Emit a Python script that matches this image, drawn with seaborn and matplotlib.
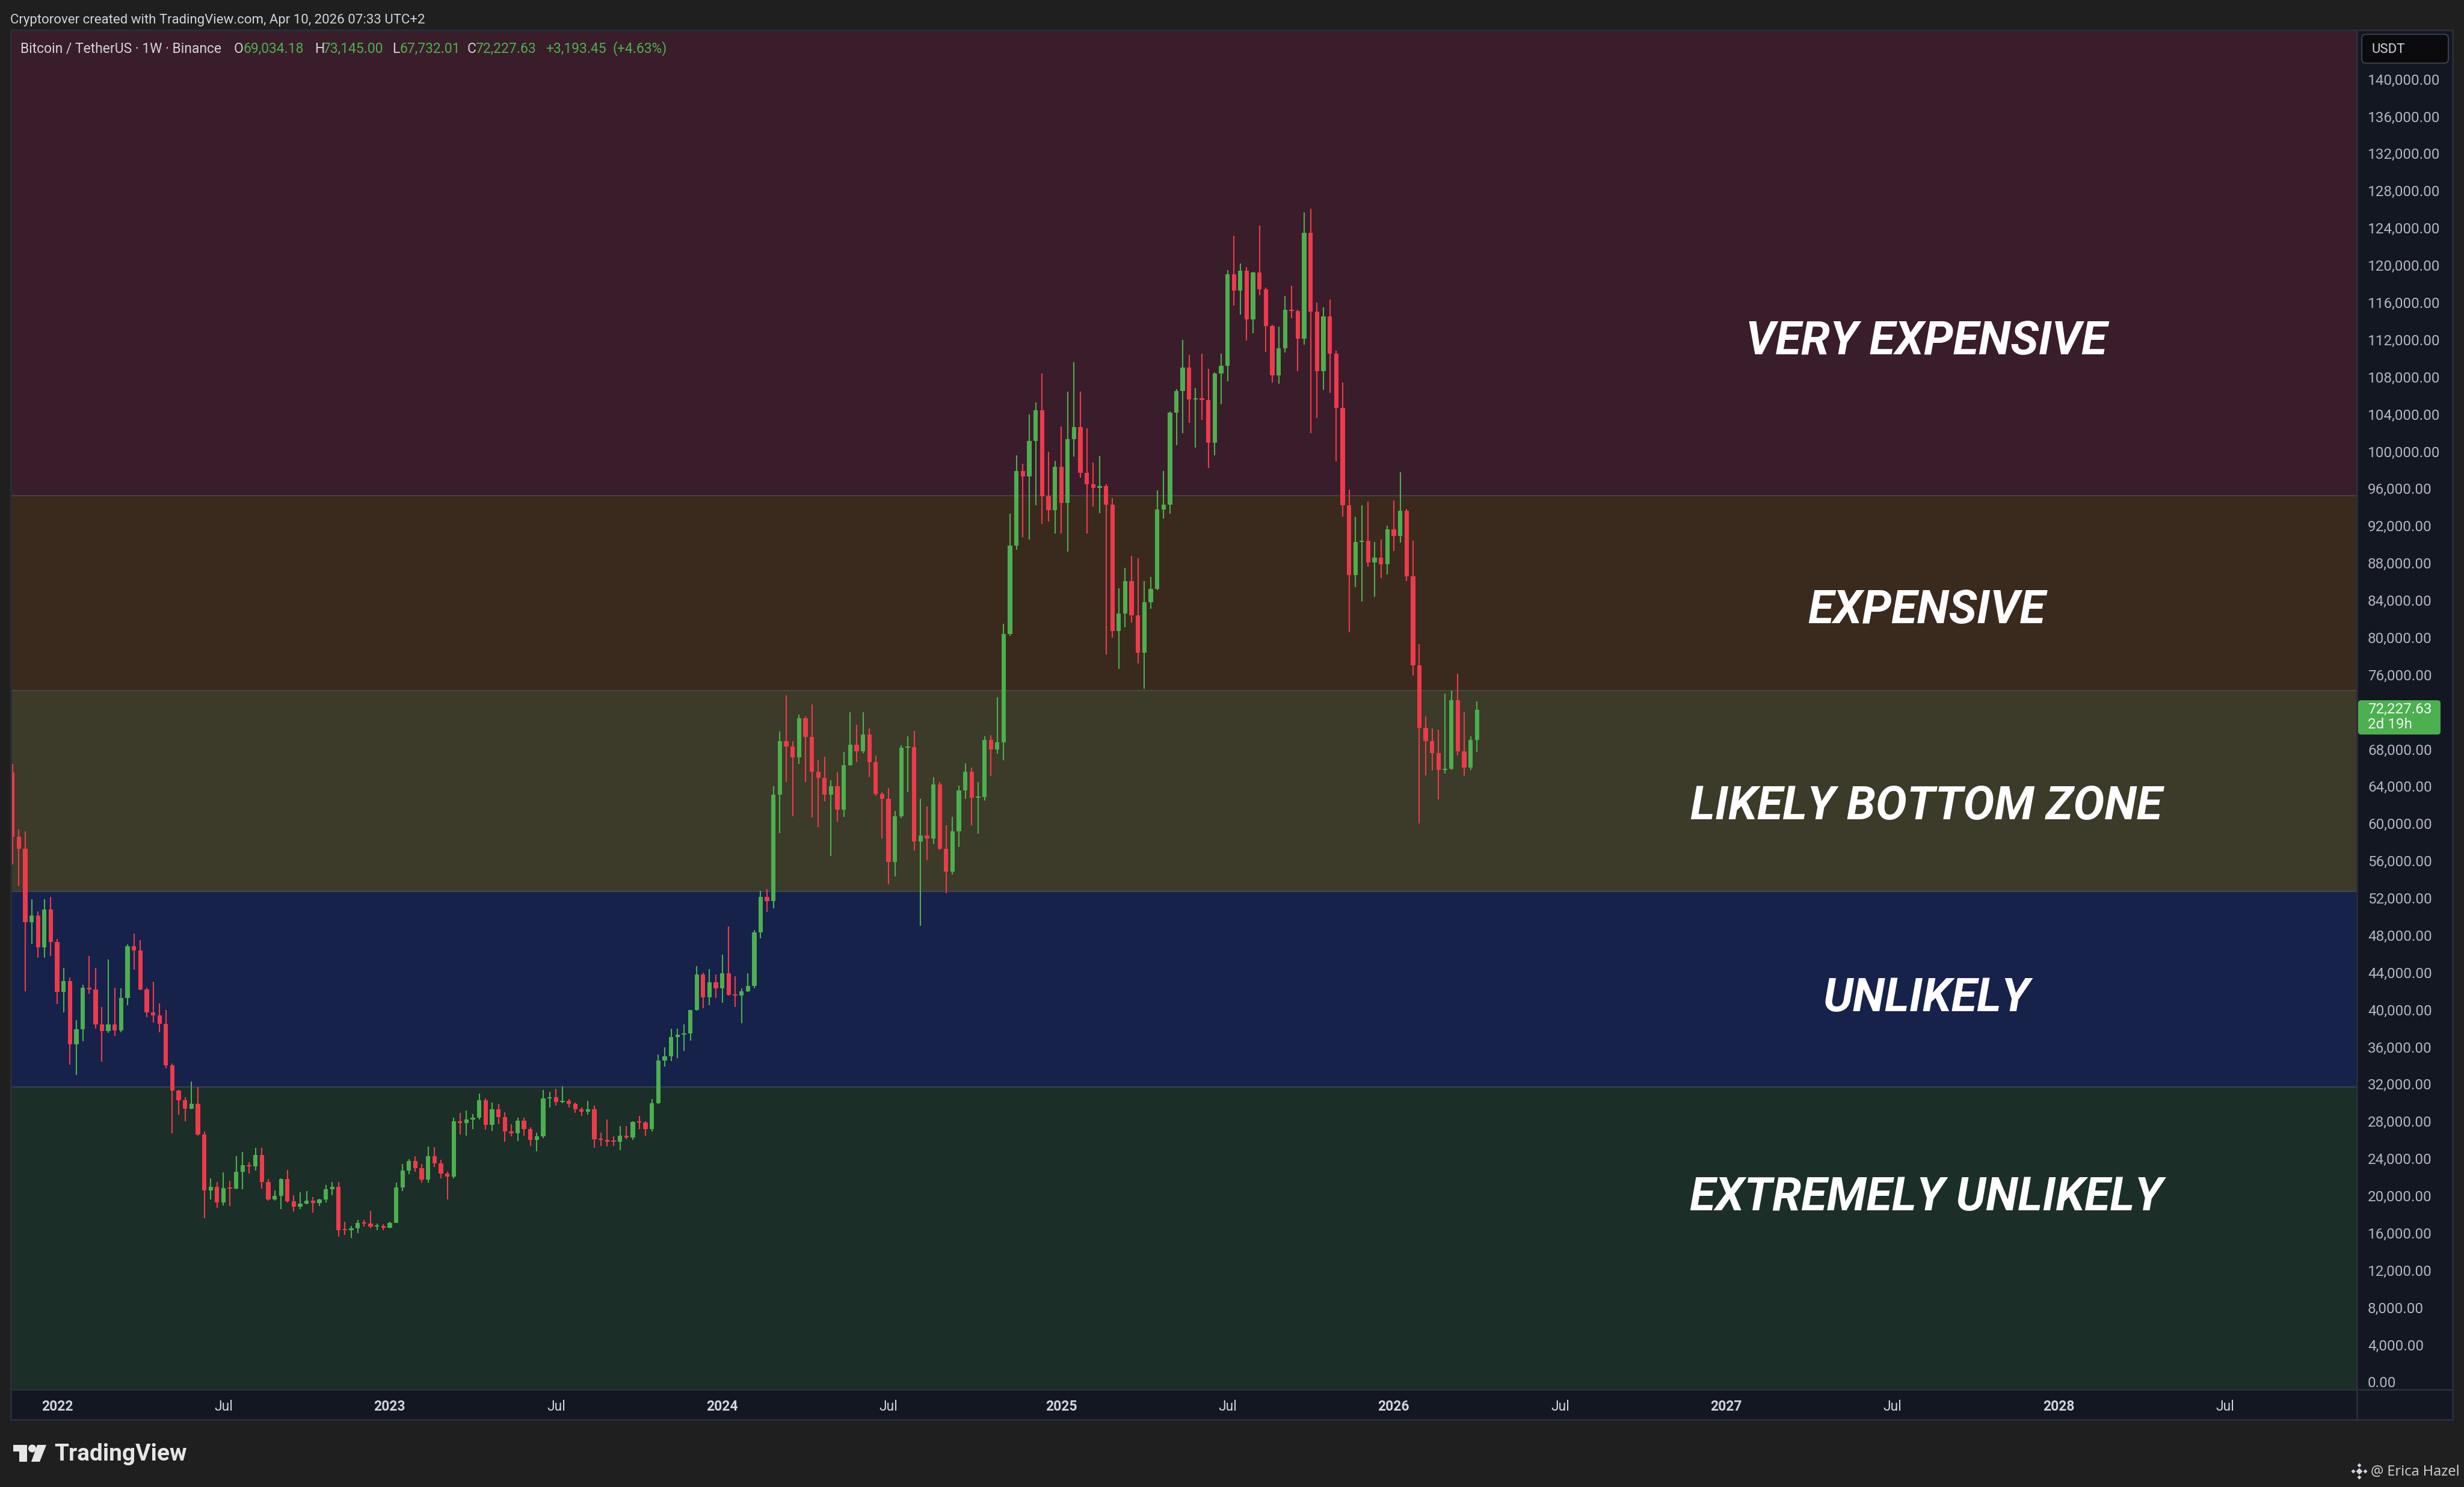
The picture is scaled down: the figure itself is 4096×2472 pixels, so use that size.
import matplotlib
matplotlib.use("Agg")
import matplotlib.dates as mdates
import matplotlib.pyplot as plt
import matplotlib.transforms as mtransforms
import numpy as np
import pandas as pd
import seaborn as sns
from matplotlib.patches import FancyBboxPatch, Polygon, Rectangle, Circle

# weekly BTC/USDT candles (Binance, 1W), values in thousands of USDT
FIRST_WEEK = "2021-11-15"

OPEN = [
    65.5, 58.6, 57.3, 49.4, 50.1, 46.7, 50.8, 47.3, 41.9, 43.1,
    36.3, 37.9, 42.4, 42.2, 38.4, 37.7, 38.4, 37.8, 41.3, 46.8,
    46.4, 42.2, 39.7, 39.4, 38.5, 34.0, 31.3, 30.3, 29.4, 29.9,
    26.6, 20.6, 21.0, 19.3, 20.85, 20.75, 22.6, 23.3, 23.2, 24.4,
    21.5, 19.6, 20.0, 21.8, 19.4, 18.85, 19.15, 19.5, 19.25, 19.6,
    20.7, 21.0, 16.35, 16.3, 16.5, 17.1, 17.0, 16.7, 16.8, 16.6,
    17.1, 20.9, 22.7, 23.75, 23.0, 21.75, 24.3, 23.5, 22.4, 22.1,
    28.0, 27.8, 28.2, 28.4, 30.3, 27.6, 29.3, 28.5, 26.9, 26.75,
    28.1, 27.2, 26.0, 26.4, 30.5, 30.6, 30.1, 30.2, 29.9, 29.3,
    29.05, 29.3, 26.1, 26.0, 25.85, 25.8, 26.5, 26.25, 27.95, 27.9,
    27.15, 29.95, 34.55, 35.0, 37.05, 37.35, 37.45, 39.95, 43.8, 41.35,
    42.95, 42.3, 43.95, 41.6, 41.55, 42.0, 42.55, 48.3, 52.1, 51.7,
    63.1, 68.9, 68.3, 67.1, 71.3, 69.3, 65.55, 64.9, 63.1, 64.0,
    61.5, 66.3, 68.5, 67.75, 69.6, 66.6, 63.2, 62.7, 55.85, 60.8,
    68.15, 68.25, 58.1, 58.7, 58.4, 64.25, 57.3, 54.85, 59.2, 63.6,
    65.6, 62.8, 62.85, 69.0, 68.0, 68.75, 80.4, 89.85, 97.9, 97.3,
    101.1, 104.4, 95.2, 93.7, 98.35, 94.5, 101.3, 102.6, 97.7, 96.45,
    96.1, 96.25, 94.3, 80.7, 82.6, 86.1, 82.4, 78.4, 83.8, 85.2,
    93.75, 94.3, 104.15, 106.5, 109.0, 105.6, 105.7, 105.55, 100.95, 108.35,
    109.2, 119.05, 117.3, 119.4, 114.2, 119.2, 117.4, 113.5, 108.2, 111.1,
    115.2, 115.1, 112.1, 123.5, 115.0, 108.6, 114.5, 110.5, 104.7, 94.2,
    86.7, 90.3, 90.4, 88.1, 88.6, 87.9, 91.6, 90.9, 93.6, 86.6,
    77.0, 70.3, 68.9, 67.6, 65.8, 65.9, 73.3, 67.8, 66.0, 69.03,
]
HIGH = [
    66.4, 59.4, 59.2, 51.9, 50.6, 51.9, 52.1, 47.6, 44.5, 43.5,
    38.9, 42.7, 45.8, 44.5, 40.3, 45.4, 42.4, 42.3, 47.0, 48.2,
    47.5, 42.4, 43.0, 40.7, 40.0, 34.2, 31.4, 30.6, 32.3, 31.7,
    26.9, 21.9, 21.5, 22.5, 21.6, 24.3, 24.7, 23.6, 25.2, 25.2,
    21.8, 20.6, 21.9, 22.8, 20.05, 20.4, 20.5, 19.9, 19.7, 21.2,
    21.5, 21.5, 17.2, 16.8, 17.4, 17.4, 18.4, 17.0, 16.95, 17.2,
    21.4, 23.4, 23.95, 24.3, 23.4, 25.3, 25.25, 23.9, 22.6, 28.4,
    28.9, 29.2, 28.8, 31.0, 30.5, 30.0, 29.9, 29.0, 27.7, 28.4,
    28.4, 27.4, 26.8, 31.4, 31.2, 31.5, 31.8, 30.4, 30.0, 29.5,
    30.2, 29.7, 26.8, 28.2, 26.4, 27.5, 27.5, 28.05, 28.6, 28.0,
    30.4, 35.2, 35.95, 37.95, 37.95, 38.4, 40.0, 44.7, 44.0, 44.4,
    43.8, 45.9, 48.95, 43.6, 42.3, 43.9, 48.6, 52.8, 52.95, 64.0,
    69.9, 73.8, 68.9, 71.75, 71.5, 72.8, 66.9, 67.2, 64.7, 65.5,
    67.7, 71.95, 70.6, 71.95, 70.2, 67.3, 63.4, 63.85, 61.4, 68.4,
    69.4, 70.0, 62.7, 61.8, 65.0, 64.5, 59.8, 60.7, 64.1, 66.5,
    66.0, 64.5, 69.4, 69.5, 73.6, 81.5, 93.3, 99.6, 98.7, 104.0,
    105.25, 108.35, 99.95, 98.98, 102.7, 106.4, 109.6, 106.45, 102.5, 98.8,
    99.5, 96.5, 95.0, 85.3, 87.5, 88.8, 88.5, 86.1, 86.5, 95.8,
    97.9, 104.3, 106.7, 112.0, 110.4, 106.8, 110.5, 108.9, 108.5, 110.5,
    119.5, 123.2, 120.2, 119.8, 119.3, 124.3, 117.6, 113.6, 113.4, 116.7,
    117.8, 115.2, 125.7, 126.1, 116.0, 115.5, 116.3, 110.8, 107.4, 95.9,
    93.0, 94.2, 94.6, 90.3, 90.5, 92.0, 94.7, 97.8, 93.8, 90.4,
    79.3, 71.5, 70.2, 70.1, 74.0, 74.3, 76.1, 72.0, 69.4, 73.145,
]
LOW = [
    55.6, 53.3, 42.0, 47.1, 45.6, 45.6, 45.8, 40.6, 39.7, 34.1,
    33.0, 36.6, 41.7, 38.0, 34.4, 37.5, 37.2, 37.6, 40.5, 44.3,
    42.1, 39.2, 38.6, 37.6, 33.7, 26.7, 28.7, 28.0, 29.3, 26.5,
    17.6, 19.6, 18.7, 19.0, 18.9, 20.7, 20.7, 22.4, 22.7, 20.8,
    19.5, 19.5, 18.6, 19.3, 18.3, 18.6, 19.1, 18.2, 18.9, 19.3,
    20.1, 15.6, 15.8, 15.5, 16.0, 16.7, 16.5, 16.3, 16.3, 16.5,
    17.1, 20.5, 22.3, 22.6, 21.4, 21.4, 23.1, 21.9, 19.6, 21.9,
    26.6, 26.5, 27.2, 28.2, 27.1, 27.0, 27.7, 25.8, 26.4, 25.9,
    26.5, 25.4, 24.8, 26.2, 29.5, 29.7, 29.95, 29.5, 28.9, 28.6,
    28.7, 25.2, 25.4, 25.3, 25.35, 24.9, 26.1, 26.0, 27.2, 26.5,
    26.9, 29.9, 33.9, 34.5, 34.8, 35.6, 36.7, 39.9, 40.2, 40.5,
    41.3, 40.75, 41.5, 40.3, 38.55, 41.9, 42.3, 47.7, 50.5, 50.9,
    59.0, 64.5, 60.8, 66.4, 64.5, 60.65, 59.6, 62.4, 56.55, 60.2,
    60.75, 66.2, 66.6, 67.6, 65.0, 63.0, 58.4, 53.5, 54.3, 60.6,
    63.4, 57.1, 49.0, 56.1, 57.8, 57.2, 52.55, 54.5, 57.5, 62.7,
    59.8, 58.9, 62.5, 65.1, 67.5, 66.8, 80.2, 89.4, 90.8, 90.5,
    94.2, 92.2, 92.5, 91.2, 91.2, 89.25, 99.45, 97.2, 91.2, 94.1,
    93.4, 78.2, 80.0, 76.6, 81.1, 81.6, 77.2, 74.5, 83.1, 85.1,
    92.8, 93.3, 100.7, 102.0, 103.1, 100.4, 103.4, 98.2, 99.6, 105.1,
    107.5, 115.7, 114.7, 111.9, 112.7, 116.8, 110.7, 107.4, 107.3, 110.6,
    114.3, 108.6, 111.5, 102.0, 103.6, 106.6, 106.3, 98.9, 93.0, 80.6,
    85.4, 83.9, 87.6, 84.4, 86.4, 86.8, 89.3, 90.2, 86.1, 75.9,
    60.0, 65.2, 65.7, 62.6, 65.4, 65.8, 67.3, 65.1, 65.8, 67.73,
]
CLOSE = [
    58.6, 57.3, 49.4, 50.1, 46.7, 50.8, 47.3, 41.9, 43.1, 36.3,
    37.9, 42.4, 42.2, 38.4, 37.7, 38.4, 37.8, 41.3, 46.8, 46.4,
    42.2, 39.7, 39.4, 38.5, 34.0, 31.3, 30.3, 29.4, 29.9, 26.6,
    20.6, 21.0, 19.3, 20.85, 20.75, 22.6, 23.3, 23.2, 24.4, 21.5,
    19.6, 20.0, 21.8, 19.4, 18.85, 19.15, 19.5, 19.25, 19.6, 20.7,
    21.0, 16.35, 16.3, 16.5, 17.1, 17.0, 16.7, 16.8, 16.6, 17.1,
    20.9, 22.7, 23.75, 23.0, 21.75, 24.3, 23.5, 22.4, 22.1, 28.0,
    27.8, 28.2, 28.4, 30.3, 27.6, 29.3, 28.5, 26.9, 26.75, 28.1,
    27.2, 26.0, 26.4, 30.5, 30.6, 30.1, 30.2, 29.9, 29.3, 29.05,
    29.3, 26.1, 26.0, 25.85, 25.8, 26.5, 26.25, 27.95, 27.9, 27.15,
    29.95, 34.55, 35.0, 37.05, 37.35, 37.45, 39.95, 43.8, 41.35, 42.95,
    42.3, 43.95, 41.6, 41.55, 42.0, 42.55, 48.3, 52.1, 51.7, 63.1,
    68.9, 68.3, 67.1, 71.3, 69.3, 65.55, 64.9, 63.1, 64.0, 61.5,
    66.3, 68.5, 67.75, 69.6, 66.6, 63.2, 62.7, 55.85, 60.8, 68.15,
    68.25, 58.1, 58.7, 58.4, 64.25, 57.3, 54.85, 59.2, 63.6, 65.6,
    62.8, 62.85, 69.0, 68.0, 68.75, 80.4, 89.85, 97.9, 97.3, 101.1,
    104.4, 95.2, 93.7, 98.35, 94.5, 101.3, 102.6, 97.7, 96.45, 96.1,
    96.25, 94.3, 80.7, 82.6, 86.1, 82.4, 78.4, 83.8, 85.2, 93.75,
    94.3, 104.15, 106.5, 109.0, 105.6, 105.7, 105.55, 100.95, 108.35, 109.2,
    119.05, 117.3, 119.4, 114.2, 119.2, 117.4, 113.5, 108.2, 111.1, 115.2,
    115.1, 112.1, 123.5, 115.0, 108.6, 114.5, 110.5, 104.7, 94.2, 86.7,
    90.3, 90.4, 88.1, 88.6, 87.9, 91.6, 90.9, 93.6, 86.6, 77.0,
    70.3, 68.9, 67.6, 65.8, 65.9, 73.3, 67.8, 66.0, 69.03, 72.23,
]

# valuation zones (thousands of USDT), bottom to top
ZONE_NAMES = ["EXTREMELY UNLIKELY", "UNLIKELY", "LIKELY BOTTOM ZONE",
              "EXPENSIVE", "VERY EXPENSIVE"]
ZONE_EDGES = [0, 31.7, 52.7, 74.3, 95.25, 200]
ZONE_COLORS = ["#1c2e28", "#16224a", "#3c3a28", "#3a2a1e", "#3a1d2a"]
ZONE_LABEL_Y = [19.8, 41.2, 61.8, 82.9, 111.8]

TICK_DATES = ["2022-01-03", "2022-07-04", "2023-01-02", "2023-07-03",
              "2024-01-01", "2024-07-01", "2025-01-06", "2025-07-07",
              "2026-01-05", "2026-07-06", "2027-01-04", "2027-07-05",
              "2028-01-03", "2028-07-03"]
TICK_LABELS = ["2022", "Jul", "2023", "Jul", "2024", "Jul", "2025", "Jul",
               "2026", "Jul", "2027", "Jul", "2028", "Jul"]

HEADER = "Cryptorover created with TradingView.com, Apr 10, 2026 07:33 UTC+2"
LEGEND_PARTS = [
    ("Bitcoin / TetherUS · 1W · Binance", 34, "fg"),
    ("O", 389, "fg"), ("69,034.18", 405, "up"),
    ("H", 523, "fg"), ("73,145.00", 536, "up"),
    ("L", 652, "fg"), ("67,732.01", 664, "up"),
    ("C", 777, "fg"), ("72,227.63", 790, "up"),
    ("+3,193.45", 907, "up"), ("(+4.63%)", 1018, "up"),
]
LAST_PRICE_TEXT = "72,227.63"
COUNTDOWN_TEXT = "2d 19h"

UP = "#4caf50"
DOWN = "#ef3a4c"
FG = "#d1d4dc"
AXIS_TXT = "#b2b5be"
PANEL = "#131722"
OUTER = "#1f1f1f"
BORDER = "#2a2e39"

sns.set_theme(style="dark", rc={"axes.facecolor": PANEL,
                                "figure.facecolor": OUTER})
plt.rcParams["font.family"] = ["Roboto", "DejaVu Sans"]

W, H = 4096, 2472
L_, R_, T_, B_ = 18, 3918, 50, 2310      # chart pane in pixels (y from top)
AXR, AXB = 4077, 2360                    # right edge of price scale, bottom of time scale

fig = plt.figure(figsize=(W / 100, H / 100), dpi=100)

# background panels for the scales
under = fig.add_axes([0, 0, 1, 1], zorder=-1)
under.set_xlim(0, W)
under.set_ylim(H, 0)
under.axis("off")
under.add_patch(Rectangle((R_, T_), AXR - R_, AXB - T_, fc=PANEL, ec="none"))
under.add_patch(Rectangle((L_, B_), R_ - L_, AXB - B_, fc=PANEL, ec="none"))

# main chart
ax = fig.add_axes([L_ / W, 1 - B_ / H, (R_ - L_) / W, (B_ - T_) / H])
dates = pd.date_range(FIRST_WEEK, periods=len(CLOSE), freq="7D")
x = mdates.date2num(dates.to_pydatetime())
x0 = x[0]
ax.set_xlim(x0 - 1.75, x0 + 366.6 * 7)
ax.set_ylim(-0.81, 145.28)
y_lo, y_hi = ax.get_ylim()

for i, col in enumerate(ZONE_COLORS):
    lo = ZONE_EDGES[i] if i else y_lo - 5
    ax.axhspan(lo, ZONE_EDGES[i + 1], color=col, lw=0, zorder=0)
for edge in ZONE_EDGES[1:-1]:
    ax.axhline(edge, color="#5a5d66", lw=1.3, alpha=0.55, zorder=1)

o = np.array(OPEN)
c = np.array(CLOSE)
colors = np.where(c >= o, UP, DOWN)
ax.vlines(x, LOW, HIGH, colors=colors, linewidth=1.5, zorder=2)
ax.bar(x, np.maximum(np.abs(c - o), 0.13), bottom=np.minimum(o, c),
       width=4.8, color=colors, linewidth=0, zorder=3)

blend = mtransforms.blended_transform_factory(ax.transAxes, ax.transData)
for name, ly in zip(ZONE_NAMES, ZONE_LABEL_Y):
    ax.text(0.8165, ly, name, transform=blend, ha="center", va="center",
            fontsize=56, fontweight="bold", fontstyle="italic",
            color="white", zorder=5)

ax.grid(False)
for sp in ax.spines.values():
    sp.set_visible(False)

yt = np.arange(0, 141, 4)
ax.yaxis.tick_right()
ax.set_yticks(yt)
ax.set_yticklabels([f"{v * 1000:,.2f}" for v in yt])
ax.tick_params(axis="y", length=0, pad=13, labelsize=17.5, labelcolor=AXIS_TXT)

ax.set_xticks(mdates.date2num(pd.to_datetime(TICK_DATES).to_pydatetime()))
ax.set_xticklabels(TICK_LABELS)
ax.tick_params(axis="x", length=0, pad=12.5, labelsize=16.5, labelcolor=FG)
for lab in ax.get_xticklabels():
    if lab.get_text().isdigit():
        lab.set_fontweight("bold")

# overlay: frames, labels, branding
deco = fig.add_axes([0, 0, 1, 1], zorder=10)
deco.set_xlim(0, W)
deco.set_ylim(H, 0)
deco.axis("off")
deco.patch.set_alpha(0)

deco.add_patch(Rectangle((L_, T_), AXR - L_, AXB - T_, fc="none", ec=BORDER, lw=2))
deco.plot([R_, R_], [T_, AXB], color=BORDER, lw=2)
deco.plot([L_, AXR], [B_, B_], color=BORDER, lw=2)

deco.text(17, 33, HEADER, fontsize=16, color=FG, va="center", ha="left")
for txt, px, kind in LEGEND_PARTS:
    deco.text(px, 81, txt, fontsize=16.5, color=UP if kind == "up" else FG,
              va="center", ha="left")

deco.add_patch(FancyBboxPatch((3926, 57), 144, 48,
                              boxstyle="round,pad=0,rounding_size=7",
                              fc="#0b0b0d", ec="#3a3e48", lw=1.5))
deco.text(3943, 82, "USDT", fontsize=16, color=FG, va="center", ha="left")

last_py = B_ - (CLOSE[-1] - y_lo) / (y_hi - y_lo) * (B_ - T_)
deco.add_patch(FancyBboxPatch((3920, last_py - 16), 137, 57,
                              boxstyle="round,pad=0,rounding_size=5",
                              fc=UP, ec="none"))
deco.text(3936, last_py - 1, LAST_PRICE_TEXT, fontsize=17.5, color="#eefaee",
          va="center", ha="left")
deco.text(3936, last_py + 24, COUNTDOWN_TEXT, fontsize=17.5, color="#eefaee",
          va="center", ha="left")

# TradingView logo
logo = "#e6e6e6"
deco.add_patch(Polygon([(22, 2402), (45, 2402), (45, 2430), (32, 2430),
                        (32, 2413), (22, 2413)], closed=True, fc=logo, ec="none"))
deco.add_patch(Circle((53.5, 2408), 6.5, fc=logo, ec="none"))
deco.add_patch(Polygon([(62, 2402), (77, 2402), (66, 2430), (52, 2430)],
                       closed=True, fc=logo, ec="none"))
deco.text(90, 2418, "TradingView", fontsize=28, fontweight="bold", color=logo,
          va="center", ha="left")

# author watermark with exchange glyph
cx, cy = 3922, 2446
for dx, dy, r in [(0, 0, 5.5), (-10, 0, 3.5), (10, 0, 3.5), (0, -10, 3.5), (0, 10, 3.5)]:
    deco.add_patch(Polygon([(cx + dx, cy + dy - r), (cx + dx + r, cy + dy),
                            (cx + dx, cy + dy + r), (cx + dx - r, cy + dy)],
                           closed=True, fc=FG, ec="none"))
deco.text(3941, 2447, "@ Erica Hazel", fontsize=17, color=FG, va="center",
          ha="left", family=["Open Sans", "DejaVu Sans"])

fig.savefig("out.png", dpi=100, facecolor=OUTER)
